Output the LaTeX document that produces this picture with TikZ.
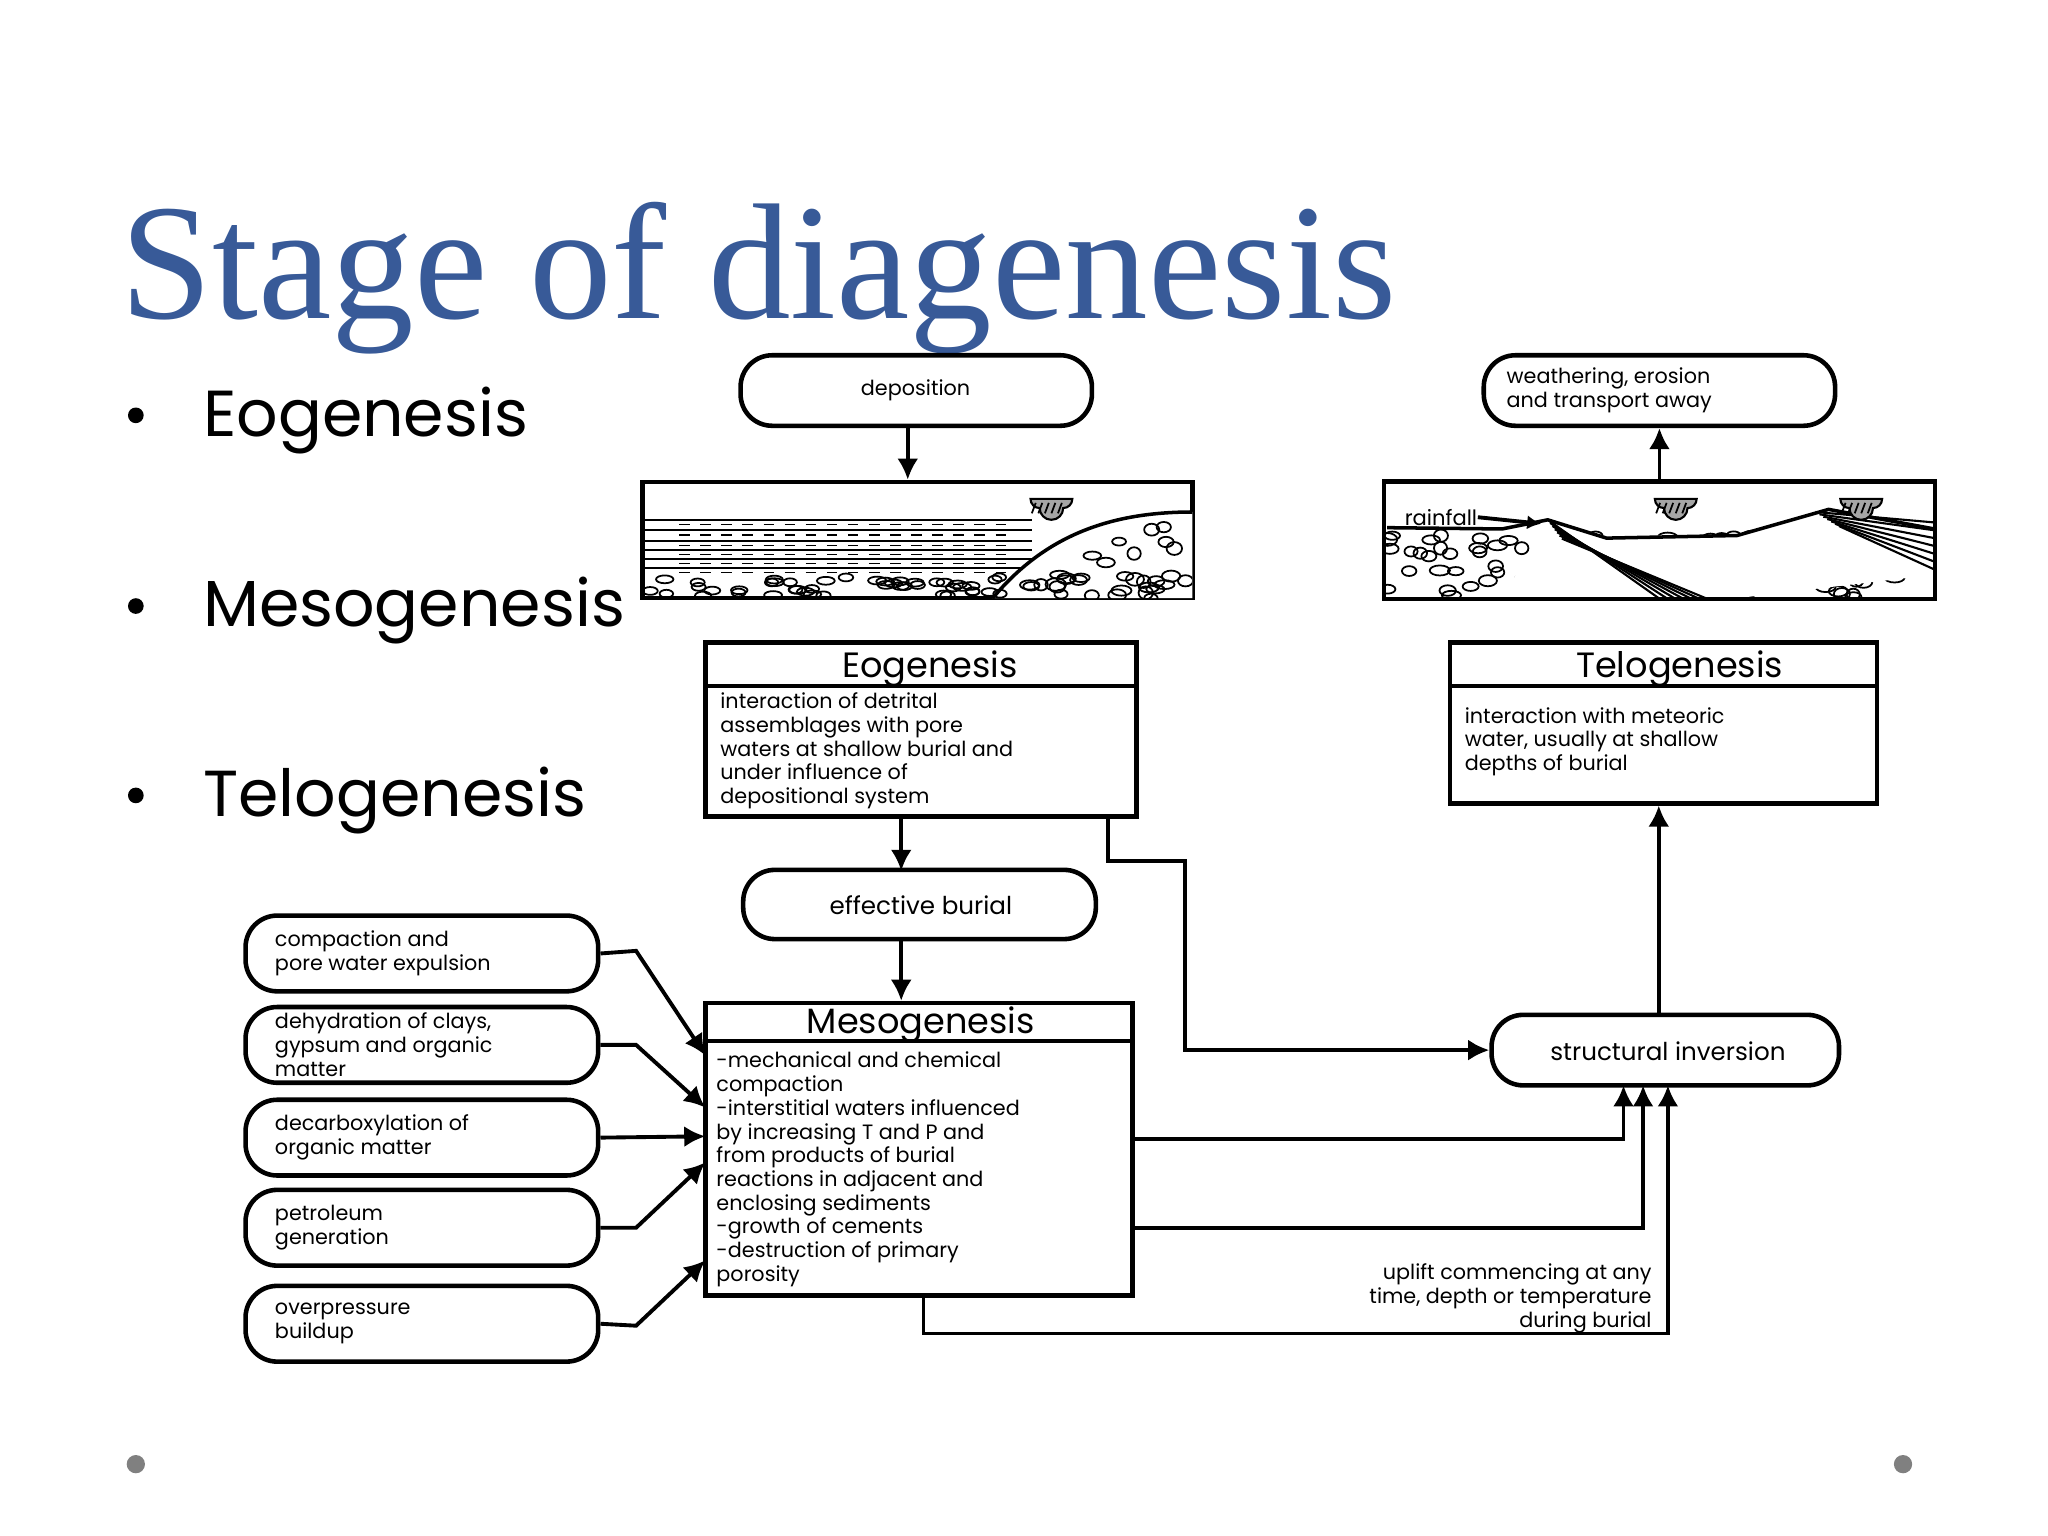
\documentclass[tikz,border=0pt]{standalone}
\usepackage{fontspec}
\setmainfont{Liberation Serif}
\newfontfamily\gothic{Poppins}
\usetikzlibrary{arrows.meta}
\definecolor{titleblue}{RGB}{56,90,152}
\newcommand\pxu{0.01306cm}
\begin{document}
\begin{tikzpicture}[x=0.01306cm,y=-0.01306cm,
  ln/.style={line width=1.1pt},
  arr/.style={ln,-{Latex[length=6pt,width=6pt]}},
  rbox/.style={draw,line width=1.3pt,rounded corners=9pt,inner sep=0pt},
  sbox/.style={draw,line width=1.3pt,inner sep=0pt},
  txt/.style={font=\gothic\fontsize{5.9}{6.75}\selectfont,align=left,inner sep=0pt},
  head/.style={font=\gothic\fontsize{10}{11}\selectfont,inner sep=0pt},
  bul/.style={font=\gothic\fontsize{18.5}{22}\selectfont,anchor=base west,inner sep=0pt}]
\useasboundingbox (0,0) rectangle (1568,1176);
\node[font=\fontsize{47}{48}\selectfont,text=titleblue,anchor=base west,inner sep=0pt] (title) at (92,244) {Stage of diagenesis};
\foreach \t/\y [count=\i] in {Eogenesis/334,Mesogenesis/480,Telogenesis/625}{
  \node[bul] (b\i) at (155,\y) {\t};
  \fill (104,\y-16) circle (6);
}
% boxes
\node[rbox,minimum width=269*\pxu,minimum height=54*\pxu] (dep) at (701.5,299) {};
\node[txt] at (701,299) {deposition};
\node[rbox,minimum width=269*\pxu,minimum height=54*\pxu] (wea) at (1270.5,299) {};
\node[txt,anchor=west] at (1153,299) {weathering, erosion\\and transport away};
\node[sbox,minimum width=421*\pxu,minimum height=89*\pxu] (picL) at (702.5,413.5) {};
\node[minimum width=421*\pxu,minimum height=89*\pxu,inner sep=0pt] (picR) at (1270.5,413.5) {};
\node[sbox,minimum width=330*\pxu,minimum height=133*\pxu] (eo) at (705,558.5) {};
\draw[ln] (540,525) -- (870,525);
\node[head] at (712,512) {Eogenesis};
\node[txt,anchor=north west] at (551,530) {interaction of detrital\\assemblages with pore\\waters at shallow burial and\\under influence of\\depositional system};
\node[sbox,minimum width=327*\pxu,minimum height=123*\pxu] (telo) at (1273.5,553.5) {};
\draw[ln] (1110,525) -- (1437,525);
\node[head] at (1286,512) {Telogenesis};
\node[txt,anchor=north west] at (1121,541) {interaction with meteoric\\water, usually at shallow\\depths of burial};
\node[rbox,minimum width=270*\pxu,minimum height=53*\pxu] (eb) at (704,692.5) {};
\node[txt,font=\gothic\fontsize{7}{8}\selectfont] at (705,693) {effective burial};
\node[sbox,minimum width=327*\pxu,minimum height=224*\pxu] (meso) at (703.5,880) {};
\draw[ln] (540,797) -- (867,797);
\node[head] at (705,785) {Mesogenesis};
\node[txt,anchor=north west] at (548,805) {-mechanical and chemical\\compaction\\-interstitial waters influenced\\by increasing T and P and\\from products of burial\\reactions in adjacent and\\enclosing sediments\\-growth of cements\\-destruction of primary\\porosity};
\node[rbox,minimum width=266*\pxu,minimum height=54*\pxu] (si) at (1275,804) {};
\node[txt,font=\gothic\fontsize{7}{8}\selectfont] at (1277,805) {structural inversion};
\foreach \y/\t [count=\i] in {730/{compaction and\\pore water expulsion},800/{dehydration of clays,\\gypsum and organic\\matter},871/{decarboxylation of\\organic matter},940/{petroleum\\generation},1013.5/{overpressure\\buildup}}{
  \node[rbox,minimum width=270*\pxu,minimum height=58*\pxu] (c\i) at (323,\y) {};
  \node[txt,anchor=west] at (210,\y) {\t};
}
\node[txt,align=right,anchor=north east] (up) at (1265,967) {uplift commencing at any\\time, depth or temperature\\during burial};
% connectors
\draw[arr] (dep.south -| 695,0) -- (picL.north -| 695,0);
\draw[arr] (picR.north) -- (wea.south);
\draw[arr] (eo.south -| eb.north) ++(-14,0) -- ++(0,40);
\draw[arr] (eb.south) ++(-14,0) -- (meso.north -| 690,0);
\draw[arr] (si.north) ++(-5,0) -- (telo.south -| 1270,0);
\draw[arr] (848,625) -- (848,659) -- (907,659) -- (907,804) -- (si.west);
\draw[arr] (867,872) -- (1243,872) -- (1243,831);
\draw[arr] (867,940) -- (1258,940) -- (1258,831);
\draw[arr] (707,992) -- (707,1021) -- (1277,1021) -- (1277,831);
\draw[arr] (c1.east) -- (487,728) -- (540,808);
\draw[arr] (c2.east) -- (487,800) -- (540,848);
\draw[arr] (c3.east) -- (540,870);
\draw[arr] (c4.east) -- (487,940) -- (540,890);
\draw[arr] (c5.east) -- (487,1015) -- (540,965);
% left picture
\begin{scope}
\clip (492,369) rectangle (913,458);
\foreach \y in {398,406,414,421,428,435}{
  \draw[line width=0.6pt] (494,\y) -- (790,\y);
  \draw[line width=0.4pt,dashed] (520,\y+3.5) -- (770,\y+3.5);}
\fill[white] (760,458) .. controls (800,410) and (850,392) .. (913,392) -- (913,458) -- cycle;
\draw[line width=1pt] (760,458) .. controls (800,410) and (850,392) .. (913,392);
\pgfmathsetseed{7}
\foreach \i in {1,...,70}{
  \pgfmathsetmacro\px{760+150*rnd}\pgfmathsetmacro\py{395+63*rnd}
  \pgfmathsetmacro\ok{(\py>458-(\px-760)*0.45)?1:0}
  \ifdim\ok pt>0.5pt \draw[line width=0.5pt] (\px,\py) ellipse (5+3*rnd and 3+2*rnd);\fi}
\foreach \i in {1,...,45}{
  \pgfmathsetmacro\px{495+280*rnd}\pgfmathsetmacro\py{442+14*rnd}
  \draw[line width=0.5pt] (\px,\py) ellipse (5+2*rnd and 3);}
\end{scope}
% right picture
\begin{scope}
\clip (1060,369) rectangle (1481,458);
\pgfmathsetseed{11}
\foreach \i in {1,...,120}{
  \pgfmathsetmacro\px{1062+418*rnd}\pgfmathsetmacro\py{410+47*rnd}
  \draw[line width=0.5pt] (\px,\py) ellipse (5+3*rnd and 3+2*rnd);}
\fill[white] (1150,458) -- (1185,398) -- (1220,410) -- (1330,410) -- (1400,390) -- (1481,405) -- (1481,440) -- (1330,458) -- cycle;
\fill[white] (1060,369) rectangle (1481,404);
\foreach \d in {0,6,...,36}{
  \draw[line width=0.6pt] (1185+\d*0.3,398+\d*0.4) -- (1270+\d,458);
  \draw[line width=0.6pt] (1390+\d*0.5,392+\d*0.3) -- (1481,400+\d);}
\draw[line width=1pt] (1062,404) -- (1150,405) -- (1185,398) -- (1230,412) -- (1330,410) -- (1400,390) -- (1481,405);
\end{scope}
\draw[line width=1.3pt] (picR.south west) rectangle (picR.north east);
\node[txt,anchor=west,font=\gothic\fontsize{6}{7}\selectfont] (rf) at (1075,396) {rainfall};
\draw[ln,-{Latex[length=4pt,width=4pt]}] (rf.east) -- (1180,401);
\foreach \cx in {805,1283,1425}{
  \fill[gray!70] (\cx-16,382) arc (180:90:7) arc (180:0:9) arc (90:0:7) -- cycle;
  \draw[line width=0.6pt] (\cx-16,382) arc (180:90:7) arc (180:0:9) arc (90:0:7) -- cycle;
  \foreach \k in {-12,-7,...,8} \draw[line width=0.5pt] (\cx+\k,385) -- (\cx+\k-3,393);
}
\fill[gray] (104,1121) circle (7);
\fill[gray] (1457,1121) circle (7);
\end{tikzpicture}
\end{document}
